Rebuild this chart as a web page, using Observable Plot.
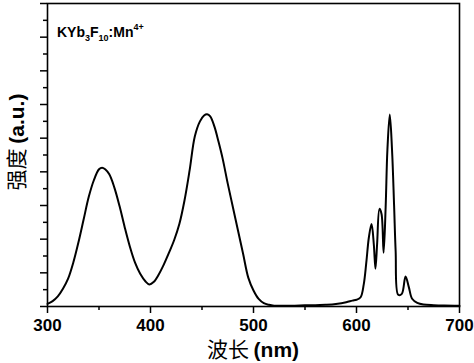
<!DOCTYPE html>
<html><head><meta charset="utf-8">
<script src="https://cdn.jsdelivr.net/npm/d3@7"></script>
<script src="https://cdn.jsdelivr.net/npm/@observablehq/plot@0.6"></script>
<style>body{margin:0;background:#fff}</style>
</head><body><div id="chart"></div>
<script>
const wavelength = [300,305,310,315,320,325,330,335,340,345,350,353,356,360,365,370,375,380,385,390,395,399,403,408,413,418,423,428,433,438,443,448,452,455,458,462,466,470,475,480,485,490,495,500,505,510,515,520,530,540,550,560,570,580,590,596,600,604,607,609.5,612,614.6,616.8,618.4,620,622.3,624.3,626.3,628.3,630,632.3,634.5,636.5,638,640.5,644,647.6,650.8,654,659,665,675,685,700];
const intensity = [0.16,0.32,0.6,1.05,1.65,2.6,3.8,5.15,6.5,7.5,8.15,8.25,8.15,7.85,7.05,5.95,4.7,3.55,2.6,1.94,1.5,1.31,1.45,1.9,2.5,3.2,3.95,4.9,6.3,8.1,10.1,11.0,11.35,11.42,11.3,10.7,9.8,8.8,7.3,5.9,4.5,3.1,1.7,0.95,0.45,0.2,0.1,0.05,0.05,0.05,0.07,0.07,0.1,0.15,0.25,0.35,0.4,0.55,1.3,2.6,4.1,4.9,3.7,2.25,3.7,5.8,5.5,3.2,5.9,9.3,11.4,9.3,6.0,3.3,0.7,0.75,1.78,1.15,0.46,0.22,0.12,0.08,0.06,0.05];
const xMajorTicks = [300,400,500,600,700];
const xMinorTicks = [350,450,550,650];
const yMajorTicks = [0,2,4,6,8,10,12,14,16,18];
const yMinorTicks = [1,3,5,7,9,11,13,15,17];
const xLabelCJK = "波长", xLabelLatin = "(nm)";
const yLabelCJK = "强度", yLabelLatin = "(a.u.)";
const sampleName = ["KYb", "3", "F", "10", ":Mn", "4+"];

const data = wavelength.map((w, i) => ({w, v: intensity[i]}));
const plot = Plot.plot({
  width: 474, height: 363,
  marginLeft: 47, marginRight: 15, marginTop: 3, marginBottom: 57,
  style: {fontFamily: "'Liberation Sans', Arial, sans-serif", fontWeight: "bold", fontSize: "17px", color: "#000", background: "#fff", overflow: "visible"},
  x: {domain: [300, 700]},
  y: {domain: [0, 18]},
  marks: [
    Plot.axisX({ticks: xMajorTicks, tickSize: 7, tickPadding: 5, tickFormat: d => String(d), label: null, strokeWidth: 1.5}),
    Plot.axisX({ticks: xMinorTicks, tickSize: 4, tickFormat: () => "", label: null, strokeWidth: 1.5}),
    Plot.axisY({ticks: yMajorTicks, tickSize: 7, tickFormat: () => "", label: null, strokeWidth: 1.5}),
    Plot.axisY({ticks: yMinorTicks, tickSize: 4, tickFormat: () => "", label: null, strokeWidth: 1.5}),
    Plot.line(data, {x: "w", y: "v", curve: "catmull-rom", stroke: "#000", strokeWidth: 2}),
    Plot.frame({stroke: "#000", strokeWidth: 1.6})
  ]
});
document.getElementById("chart").append(plot);
const svg = d3.select(plot);

// x label
const xl = svg.append("text").attr("x", 253).attr("y", 357).attr("text-anchor", "middle").attr("font-size", 21).attr("fill", "#000");
xl.append("tspan").attr("font-family", "'Noto Sans CJK SC'").attr("font-weight", "normal").text(xLabelCJK + " ");
xl.append("tspan").attr("font-family", "'Liberation Sans', Arial").attr("font-weight", "bold").text(xLabelLatin);

// y label
const yl = svg.append("text").attr("transform", "translate(24,142) rotate(-90)").attr("text-anchor", "middle").attr("font-size", 21).attr("fill", "#000");
yl.append("tspan").attr("font-family", "'Noto Sans CJK SC'").attr("font-weight", "normal").text(yLabelCJK + " ");
yl.append("tspan").attr("font-family", "'Liberation Sans', Arial").attr("font-weight", "bold").text(yLabelLatin);

// sample annotation
const an = svg.append("text").attr("x", 57).attr("y", 37).attr("text-anchor", "start").attr("font-size", 14).attr("font-weight", "bold").attr("font-family", "'Liberation Sans', Arial").attr("fill", "#000");
an.append("tspan").text(sampleName[0]);
an.append("tspan").attr("font-size", 9).attr("dy", 4).text(sampleName[1]);
an.append("tspan").attr("dy", -4).text(sampleName[2]);
an.append("tspan").attr("font-size", 9).attr("dy", 4).text(sampleName[3]);
an.append("tspan").attr("dy", -4).text(sampleName[4]);
an.append("tspan").attr("font-size", 9).attr("dy", -7).text(sampleName[5]);
</script></body></html>
